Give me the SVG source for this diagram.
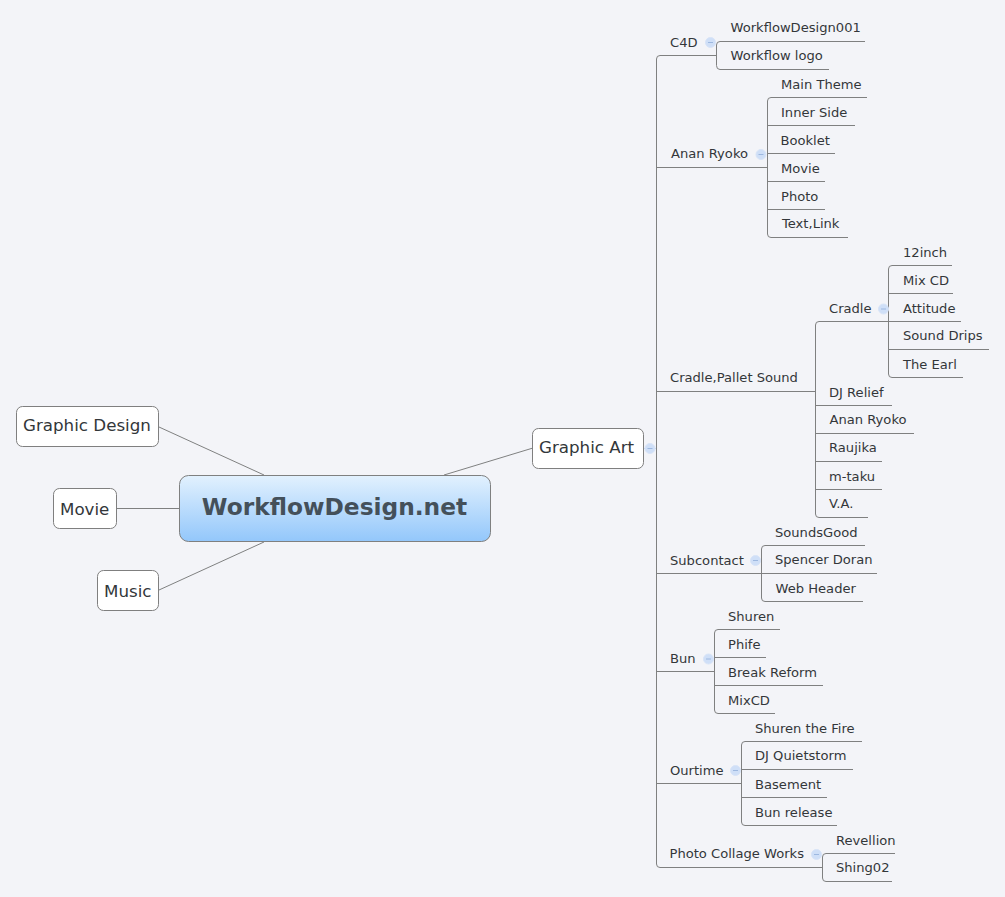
<svg xmlns="http://www.w3.org/2000/svg" width="1005" height="897" viewBox="0 0 1005 897">
<style>
text{font-family:"DejaVu Sans",Verdana,sans-serif;fill:#33373a}
.t{font-size:13.1px}
.m{font-size:16.7px}
.r{font-size:23.3px;font-weight:bold;fill:#44505a}
.box{fill:#fff;stroke:#7f7f7f;stroke-width:1}
.c{fill:none;stroke:#7f8080;stroke-width:1}
.d{fill:#cfdff7;stroke:#d8e4f7;stroke-width:1}
.dm{stroke:#9db8e0;stroke-width:1}
</style>
<defs>
<linearGradient id="g" x1="0" y1="0" x2="0" y2="1"><stop offset="0" stop-color="#e2f1fe"/><stop offset="1" stop-color="#93c7fb"/></linearGradient>
<g id="col"><circle r="5" class="d"/><line x1="-2.500" x2="2.500" class="dm"/></g>
</defs>
<rect width="1005" height="897" fill="#f3f4f8"/>
<g id="connectors">
<path class="c" d="M159 427L264 475M117 508.500H180M159 590L264 542M444 475L533 448"/>
<path class="c" d="M717 55.500H660Q656.500 55.500 656.500 59V864Q656.500 867.500 660 867.500H823M656.500 167.500H768M656.500 391.500H816M656.500 573.500H762M656.500 671.500H715M656.500 783.500H742"/>
<path class="c" d="M865 41.500H720Q716.500 41.500 716.500 45V65.500Q716.500 69.500 720 69.500H829"/>
<path class="c" d="M867 97.500H771Q767.500 97.500 767.500 101V234Q767.500 237.500 771 237.500H848M768 125.500H855M768 153.500H835M768 181.500H825M768 209.500H825"/>
<path class="c" d="M889 321.500H819Q815.500 321.500 815.500 325V514Q815.500 517.500 819 517.500H868M816 405.500H892M816 433.500H914M816 461.500H882M816 489.500H882"/>
<path class="c" d="M952 265.500H892Q888.500 265.500 888.500 269V374Q888.500 377.500 892 377.500H963M889 293.500H953M889 321.500H961M889 349.500H989"/>
<path class="c" d="M865 545.500H765Q761.500 545.500 761.500 549V598Q761.500 601.500 765 601.500H863M762 573.500H877"/>
<path class="c" d="M780 629.500H718Q714.500 629.500 714.500 633V710Q714.500 713.500 718 713.500H775M715 657.500H766M715 685.500H823"/>
<path class="c" d="M862 741.500H745Q741.500 741.500 741.500 745V822Q741.500 825.500 745 825.500H837M742 769.500H853M742 797.500H827"/>
<path class="c" d="M895 853.500H826Q822.500 853.500 822.500 857V878Q822.500 881.500 826 881.500H892"/>
<line x1="644" x2="656" y1="448.500" y2="448.500" stroke="#c5d6ef"/>
</g>
<g id="root"><rect x="179.500" y="475.500" width="311" height="66" rx="9" fill="url(#g)" stroke="#7f8080"/><text class="r" x="334.500" y="515" text-anchor="middle">WorkflowDesign.net</text></g>
<g id="n-graphic-design"><rect class="box" x="16.500" y="406.500" width="142" height="40" rx="6"/><text class="m" x="23" y="431">Graphic Design</text></g>
<g id="n-movie"><rect class="box" x="53.500" y="488.500" width="63" height="40" rx="6"/><text class="m" x="60" y="514.500">Movie</text></g>
<g id="n-music"><rect class="box" x="97.500" y="570.500" width="61" height="40" rx="6"/><text class="m" x="104" y="596.500">Music</text></g>
<g id="n-graphic-art"><rect class="box" x="532.500" y="428.500" width="111" height="40" rx="6"/><text class="m" x="539" y="453">Graphic Art</text></g>
<g id="collapse">
<use href="#col" x="650" y="448.500"/><use href="#col" x="710.500" y="42.500"/><use href="#col" x="761" y="154.500"/><use href="#col" x="883.500" y="309"/><use href="#col" x="755.500" y="560.500"/><use href="#col" x="708.500" y="659"/><use href="#col" x="735.500" y="770.500"/><use href="#col" x="816.500" y="854.500"/>
</g>
<g id="labels">
<text class="t" x="670" y="47">C4D</text><text class="t" x="730.500" y="32">WorkflowDesign001</text><text class="t" x="730.500" y="60">Workflow logo</text>
<text class="t" x="671" y="158">Anan Ryoko</text><text class="t" x="781" y="89">Main Theme</text><text class="t" x="781" y="117">Inner Side</text><text class="t" x="780.500" y="145">Booklet</text><text class="t" x="781" y="173">Movie</text><text class="t" x="781" y="201">Photo</text><text class="t" x="782" y="228">Text,Link</text>
<text class="t" x="670" y="382">Cradle,Pallet Sound</text><text class="t" x="829" y="313">Cradle</text><text class="t" x="903" y="257">12inch</text><text class="t" x="903" y="285">Mix CD</text><text class="t" x="903" y="313">Attitude</text><text class="t" x="903" y="340">Sound Drips</text><text class="t" x="903" y="369">The Earl</text>
<text class="t" x="829" y="397">DJ Relief</text><text class="t" x="829.500" y="424">Anan Ryoko</text><text class="t" x="829" y="452">Raujika</text><text class="t" x="829" y="481">m-taku</text><text class="t" x="829" y="508">V.A.</text>
<text class="t" x="670" y="565">Subcontact</text><text class="t" x="775" y="537">SoundsGood</text><text class="t" x="775" y="564">Spencer Doran</text><text class="t" x="775.500" y="593">Web Header</text>
<text class="t" x="670" y="663">Bun</text><text class="t" x="728" y="621">Shuren</text><text class="t" x="728" y="649">Phife</text><text class="t" x="728" y="677">Break Reform</text><text class="t" x="728" y="705">MixCD</text>
<text class="t" x="670" y="775">Ourtime</text><text class="t" x="755" y="733">Shuren the Fire</text><text class="t" x="755" y="760">DJ Quietstorm</text><text class="t" x="755" y="789">Basement</text><text class="t" x="755" y="817">Bun release</text>
<text class="t" x="669.500" y="858">Photo Collage Works</text><text class="t" x="836" y="845">Revellion</text><text class="t" x="836" y="872">Shing02</text>
</g>
</svg>
